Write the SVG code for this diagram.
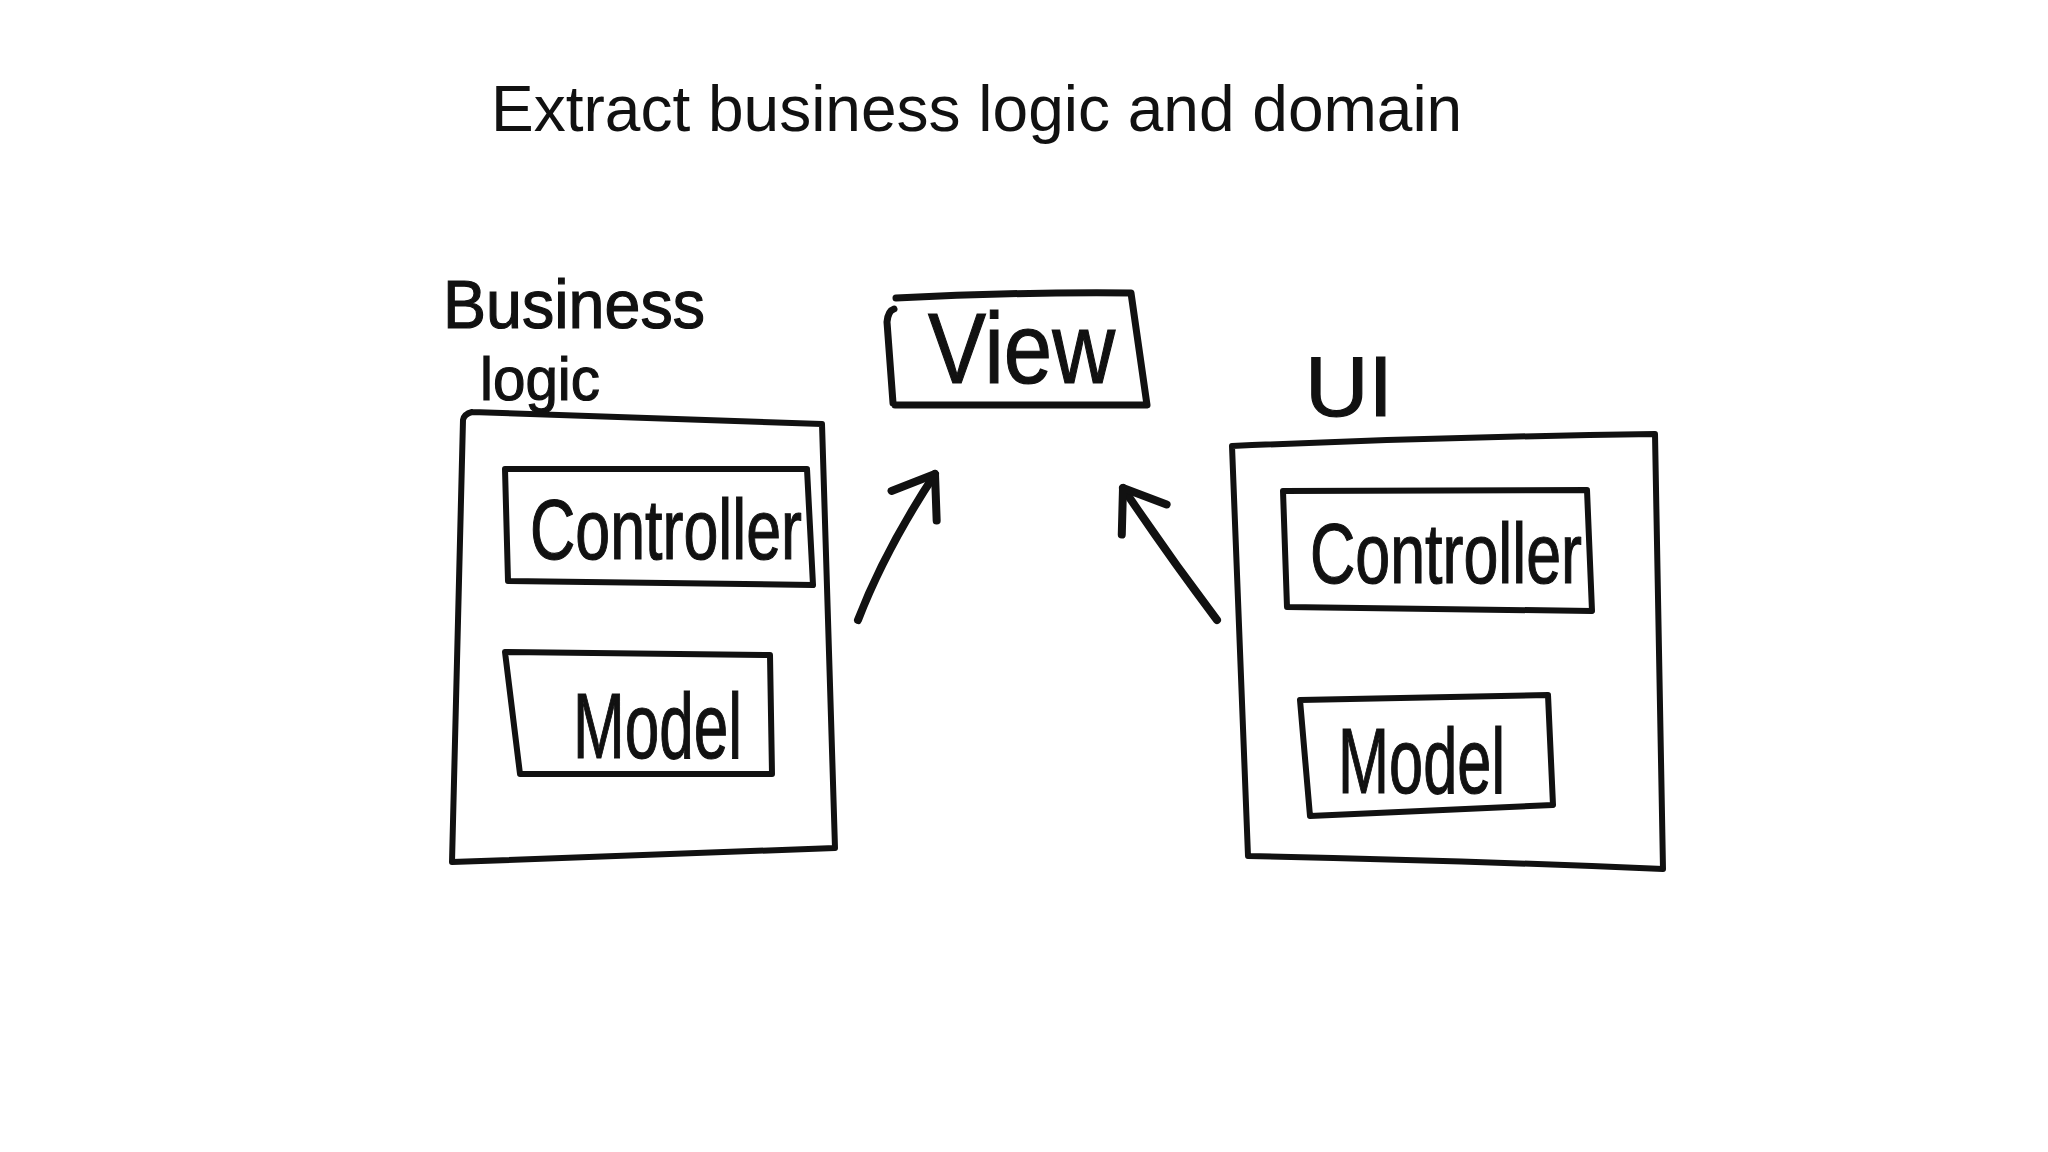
<svg xmlns="http://www.w3.org/2000/svg" width="2048" height="1152" viewBox="0 0 2048 1152">
<style>
.sketch{fill:none;stroke:#111;stroke-width:6;stroke-linecap:round;stroke-linejoin:round}
.hand{font-family:"Liberation Sans",Arial,sans-serif;fill:#111;stroke:#111;stroke-width:1.2}
.title{font-family:"Liberation Sans",Arial,sans-serif;font-size:64px;fill:#111}
.arrow{fill:none;stroke:#111;stroke-width:8;stroke-linecap:round}
</style>
<defs>
<marker id="chev" markerUnits="userSpaceOnUse" viewBox="-50 -35 60 70" refX="0" refY="0" markerWidth="60" markerHeight="70" orient="auto" overflow="visible">
<path d="M-38,-27 L0,0 L-38,27" fill="none" stroke="#111" stroke-width="8" stroke-linecap="round" stroke-linejoin="round"/>
</marker>
</defs>
<rect width="2048" height="1152" fill="#fff"/>
<g id="title"><text class="title" x="491" y="131">Extract business logic and domain</text></g>
<g id="label-business-logic">
<text class="hand" x="443" y="328" font-size="68" textLength="262" lengthAdjust="spacingAndGlyphs">Business</text>
<text class="hand" x="480" y="400" font-size="62" textLength="120" lengthAdjust="spacingAndGlyphs">logic</text>
</g>
<g id="business-logic">
<path class="sketch" d="M472,412 Q640,418 822,424 M822,424 L835,848 M835,848 Q640,855 452,862 M452,862 L463,420 Q464,414 472,412"/>
</g>
<g id="bl-controller">
<path class="sketch" d="M505,469 L807,469 L813,585 L508,581 Z"/>
<text class="hand" x="530" y="559" font-size="86" textLength="272" lengthAdjust="spacingAndGlyphs">Controller</text>
</g>
<g id="bl-model">
<path class="sketch" d="M505,652 L770,655 L772,774 L520,774 Z"/>
<text class="hand" x="573" y="758" font-size="92" textLength="169" lengthAdjust="spacingAndGlyphs">Model</text>
</g>
<g id="view">
<path class="sketch" d="M896,298 Q1010,292 1131,293 L1147,405 L895,405 M893,403 L887,322 Q888,311 894,309" style="stroke-width:7"/>
<text class="hand" x="928" y="383" font-size="100" textLength="187" lengthAdjust="spacingAndGlyphs">View</text>
</g>
<g id="label-ui">
<text class="hand" x="1305" y="416" font-size="85" textLength="88" lengthAdjust="spacingAndGlyphs">UI</text>
</g>
<g id="ui">
<path class="sketch" d="M1232,446 Q1440,437 1655,434 L1663,869 Q1450,860 1248,856 L1232,446 Z"/>
</g>
<g id="ui-controller">
<path class="sketch" d="M1283,491 L1587,490 L1592,611 L1287,607 Z"/>
<text class="hand" x="1310" y="583" font-size="86" textLength="272" lengthAdjust="spacingAndGlyphs">Controller</text>
</g>
<g id="ui-model">
<path class="sketch" d="M1300,700 L1548,695 L1553,805 L1310,816 Z"/>
<text class="hand" x="1338" y="793" font-size="92" textLength="167" lengthAdjust="spacingAndGlyphs">Model</text>
</g>
<g id="connectors">
<path class="arrow" d="M858,620 Q885,550 935,474" marker-end="url(#chev)"/>
<path class="arrow" d="M1217,620 Q1168,555 1123,488" marker-end="url(#chev)"/>
</g>
</svg>
